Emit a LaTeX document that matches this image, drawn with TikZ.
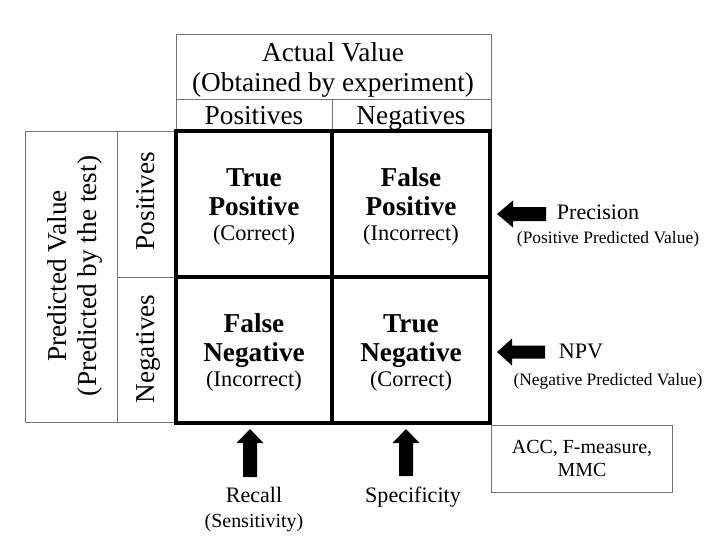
\documentclass[tikz,border=0pt]{standalone}
\usepackage{fontspec}
\setmainfont{Liberation Serif}
\usetikzlibrary{positioning}

\begin{document}
\begin{tikzpicture}[
        x=0.025cm, y=-0.025cm,
        every node/.style={text=black, align=center, inner sep=0pt},
        thinbox/.style={draw=black!55, line width=0.7pt},
        thickbox/.style={draw=black, line width=2.3pt},
        biglabel/.style={font=\fontsize{19.4}{22}\selectfont},
        celltext/.style={font=\fontsize{19.4}{20}\selectfont\bfseries},
        sidetext/.style={font=\fontsize{15.7}{19}\selectfont},
        midtext/.style={font=\fontsize{14.2}{16.6}\selectfont},
        smalltext/.style={font=\fontsize{12.4}{15}\selectfont},
        blockarrow/.style={fill=black}
    ]
        \def\xl{176}
        \def\xm{332}
        \def\xr{490}
        \def\yt{131}
        \def\ym{277}
        \def\yb{423}

        \useasboundingbox (0,0) rectangle (721,541);

        % --- Header (Actual Value) ---
        \draw[thinbox] (\xl,34) rectangle (491,99);
        \draw[thinbox] (\xl,99) rectangle (\xm,\yt);
        \draw[thinbox] (\xm,99) rectangle (491,\yt);
        \node[biglabel] (actual) at (333,70) {Actual Value\\(Obtained by experiment)};
        \node[biglabel, anchor=base] (actpos) at (254,124) {Positives};
        \node[biglabel, anchor=base] (actneg) at (411,124) {Negatives};

        % --- Left side (Predicted Value) ---
        \draw[thinbox] (25,\yt) rectangle (117,422);
        \draw[thinbox] (117,\yt) rectangle (\xl,\ym);
        \draw[thinbox] (117,\ym) rectangle (\xl,422);
        \node[biglabel, rotate=90] (predicted) at (75,276) {Predicted Value\\(Predicted by the test)};
        \node[biglabel, rotate=90, anchor=base] (predpos) at (154,201) {Positives};
        \node[biglabel, rotate=90, anchor=base] (predneg) at (154,349) {Negatives};

        % --- Matrix cells ---
        \node[celltext] (tp) at (254,206) {\strut True\\Positive\\[-2.2pt]{\mdseries\fontsize{15.9}{18}\selectfont (Correct)}};
        \node[celltext] (fp) at (411,206) {\strut False\\Positive\\[-2.2pt]{\mdseries\fontsize{15.9}{18}\selectfont (Incorrect)}};
        \node[celltext] (fn) at (254,352) {\strut False\\Negative\\[-2.2pt]{\mdseries\fontsize{15.9}{18}\selectfont (Incorrect)}};
        \node[celltext] (tn) at (411,352) {\strut True\\Negative\\[-2.2pt]{\mdseries\fontsize{15.9}{18}\selectfont (Correct)}};

        \draw[thickbox] (\xl,\yt) rectangle (\xr,\yb);
        \draw[thickbox] (\xm,\yt) -- (\xm,\yb);
        \draw[thickbox] (\xl,\ym) -- (\xr,\ym);

        % --- Arrows (right) ---
        \fill[blockarrow] (497,214) -- (513,200.5) -- (513,207) -- (546,207) -- (546,221) -- (513,221) -- (513,227.5) -- cycle;
        \fill[blockarrow] (497,352) -- (512,338.5) -- (512,345.5) -- (545,345.5) -- (545,358.5) -- (512,358.5) -- (512,365.5) -- cycle;
        \node[sidetext, anchor=base] (prec) at (598,219) {Precision};
        \node[smalltext, anchor=base] (ppv) at (608,243) {(Positive Predicted Value)};
        \node[sidetext, anchor=base] (npv) at (581,358) {NPV};
        \node[smalltext, anchor=base] (negpv) at (608,385) {(Negative Predicted Value)};

        % --- Arrows (bottom) ---
        \fill[blockarrow] (250,429) -- (263.5,443) -- (257,443) -- (257,477) -- (243,477) -- (243,443) -- (236.5,443) -- cycle;
        \fill[blockarrow] (406,429) -- (419.5,443) -- (413,443) -- (413,476) -- (399,476) -- (399,443) -- (392.5,443) -- cycle;
        \node[sidetext, anchor=base] (recall) at (254,502) {Recall};
        \node[midtext, anchor=base] (sens) at (254,527) {(Sensitivity)};
        \node[sidetext, anchor=base] (spec) at (413,502) {Specificity};

        % --- Other measures ---
        \node[thinbox, midtext, minimum width=4.5cm, minimum height=1.675cm] (metrics) at (582,458.5) {ACC, F-measure,\\MMC};

    \end{tikzpicture}
\end{document}
